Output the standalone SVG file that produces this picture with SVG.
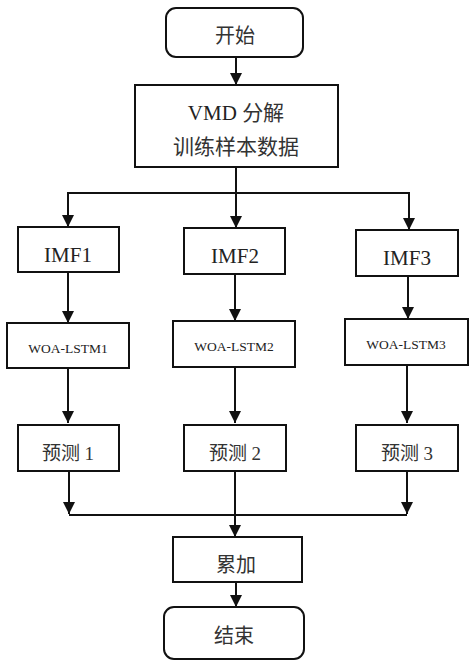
<svg xmlns="http://www.w3.org/2000/svg" width="474" height="666" viewBox="0 0 474 666">
<style>
.box{fill:#fff;stroke:#111;stroke-width:2}
.ln{fill:none;stroke:#111;stroke-width:2}
.t{font-family:"Liberation Serif","Noto Sans CJK SC",serif;fill:#222;text-anchor:middle}
.cjk{font-family:"Noto Sans CJK SC","Liberation Sans",sans-serif;fill:#333;text-anchor:middle}
</style>
<defs>
<marker id="ah" markerUnits="userSpaceOnUse" markerWidth="12" markerHeight="12" refX="12" refY="6" orient="auto">
<path d="M0,0 L12,6 L0,12 z" fill="#111"/>
</marker>
</defs>
<g id="connectors">
<line class="ln" x1="236" y1="57" x2="236" y2="85" marker-end="url(#ah)"/>
<line class="ln" x1="236" y1="167" x2="236" y2="228" marker-end="url(#ah)"/>
<polyline class="ln" points="68,227 68,193 409,193 409,230"/>
<line class="ln" x1="68" y1="200" x2="68" y2="227" marker-end="url(#ah)"/>
<line class="ln" x1="409" y1="200" x2="409" y2="230" marker-end="url(#ah)"/>
<line class="ln" x1="68" y1="272" x2="68" y2="323" marker-end="url(#ah)"/>
<line class="ln" x1="235" y1="274" x2="235" y2="321" marker-end="url(#ah)"/>
<line class="ln" x1="408" y1="276" x2="408" y2="319" marker-end="url(#ah)"/>
<line class="ln" x1="68" y1="368" x2="68" y2="423" marker-end="url(#ah)"/>
<line class="ln" x1="235" y1="367" x2="235" y2="423" marker-end="url(#ah)"/>
<line class="ln" x1="407" y1="365" x2="407" y2="423" marker-end="url(#ah)"/>
<line class="ln" x1="69" y1="471" x2="69" y2="514" marker-end="url(#ah)"/>
<line class="ln" x1="407" y1="471" x2="407" y2="514" marker-end="url(#ah)"/>
<line class="ln" x1="69" y1="515" x2="407" y2="515"/>
<line class="ln" x1="235" y1="471" x2="235" y2="537" marker-end="url(#ah)"/>
<line class="ln" x1="236" y1="582" x2="236" y2="607" marker-end="url(#ah)"/>
</g>
<g id="start">
<rect class="box" x="166" y="8" width="137" height="49" rx="10"/>
<text class="cjk" x="235" y="43" font-size="20">开始</text>
</g>
<g id="vmd">
<rect class="box" x="135" y="85" width="203" height="82"/>
<text class="t" x="236" y="120" font-size="21">VMD <tspan font-family="Noto Sans CJK SC" fill="#333">分解</tspan></text>
<text class="cjk" x="236" y="154" font-size="21">训练样本数据</text>
</g>
<g id="imf1">
<rect class="box" x="18" y="227" width="101" height="45"/>
<text class="t" x="68" y="262" font-size="21">IMF1</text>
</g>
<g id="imf2">
<rect class="box" x="184" y="228" width="101" height="46"/>
<text class="t" x="235" y="263" font-size="21">IMF2</text>
</g>
<g id="imf3">
<rect class="box" x="356" y="230" width="102" height="46"/>
<text class="t" x="407" y="265" font-size="21">IMF3</text>
</g>
<g id="woa1">
<rect class="box" x="7" y="323" width="122" height="45"/>
<text class="t" x="68" y="353" font-size="13.5">WOA-LSTM1</text>
</g>
<g id="woa2">
<rect class="box" x="173" y="321" width="122" height="46"/>
<text class="t" x="234" y="351" font-size="13.5">WOA-LSTM2</text>
</g>
<g id="woa3">
<rect class="box" x="345" y="319" width="123" height="46"/>
<text class="t" x="406" y="349" font-size="13.5">WOA-LSTM3</text>
</g>
<g id="pred1">
<rect class="box" x="18" y="425" width="101" height="46"/>
<text class="cjk" x="68" y="460" font-size="19">预测 <tspan font-family="Liberation Serif">1</tspan></text>
</g>
<g id="pred2">
<rect class="box" x="184" y="425" width="102" height="46"/>
<text class="cjk" x="235" y="460" font-size="19">预测 <tspan font-family="Liberation Serif">2</tspan></text>
</g>
<g id="pred3">
<rect class="box" x="356" y="425" width="102" height="46"/>
<text class="cjk" x="407" y="460" font-size="19">预测 <tspan font-family="Liberation Serif">3</tspan></text>
</g>
<g id="sum">
<rect class="box" x="173" y="537" width="129" height="45"/>
<text class="cjk" x="236" y="572" font-size="20">累加</text>
</g>
<g id="end">
<rect class="box" x="164" y="607" width="140" height="52" rx="10"/>
<text class="cjk" x="234" y="643" font-size="20">结束</text>
</g>
</svg>
